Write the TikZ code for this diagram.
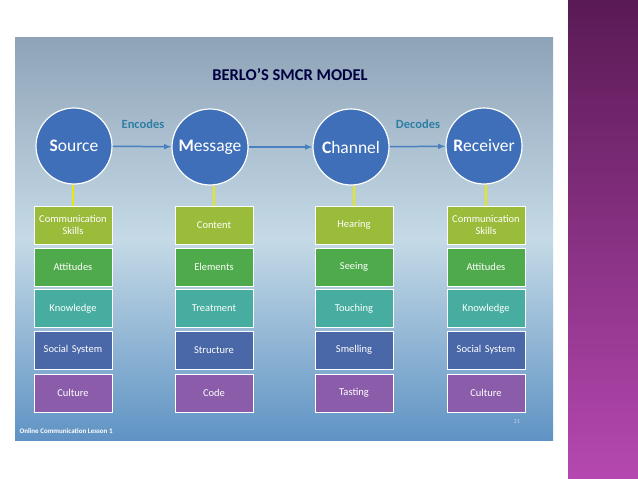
\documentclass[tikz,border=0pt]{standalone}
\usepackage{fontspec}
\setmainfont{Carlito}
\begin{document}
\begin{tikzpicture}[x=1pt,y=-1pt,
 circ/.style={circle,draw=white,line width=1.2pt,fill=cblue,minimum size=76pt,text=white,font=\fontsize{17.5}{17.5}\selectfont,inner sep=0pt},
 box/.style={draw=white,line width=0.8pt,minimum width=78pt,text width=76pt,minimum height=38pt,text=white,align=center,font=\fontsize{10.5}{12}\selectfont,inner sep=1pt},
 arr/.style={-latex,draw=ablue,line width=1.5pt},
 stem/.style={draw=yellow!90!green,line width=2.2pt},
 lab/.style={text=lblue,font=\bfseries\fontsize{12.5}{13}\selectfont}]
\definecolor{cblue}{HTML}{3F6FB8}
\definecolor{ablue}{HTML}{4A7FC0}
\definecolor{lblue}{HTML}{2E7FA5}
\definecolor{r1}{HTML}{9BBB3B}
\definecolor{r2}{HTML}{4EAA4A}
\definecolor{r3}{HTML}{46ADA0}
\definecolor{r4}{HTML}{4A68A8}
\definecolor{r5}{HTML}{8A5CAA}
\definecolor{bgtop}{HTML}{8FA3B8}
\definecolor{bgmid}{HTML}{C5DAE6}
\definecolor{bgbot}{HTML}{5F93C4}
\definecolor{ptop}{HTML}{5A1A55}
\definecolor{pbot}{HTML}{B548B0}
\useasboundingbox (0,0) rectangle (638,479);
\fill[white] (0,0) rectangle (638,479);
\shade[top color=ptop,bottom color=pbot] (568,0) rectangle (638,479);
\shade[top color=bgtop,bottom color=bgbot,middle color=bgmid] (15,37) rectangle (553,440);
\node[font=\bfseries\fontsize{16.5}{16.5}\selectfont,text=black!75!blue] (title) at (290,75) {BERLO'S SMCR MODEL};
\node[circ] (S) at (74,146) {\textbf{S}ource};
\node[circ] (M) at (210,147) {\textbf{M}essage};
\node[circ] (C) at (351,147) {\textbf{C}hannel};
\node[circ] (R) at (484,146) {\textbf{R}eceiver};
\draw[arr] (S) -- (M);
\draw[arr] (M) -- (C);
\draw[arr] (C) -- (R);
\node[lab] (enc) at (143,124) {Encodes};
\node[lab] (dec) at (418,124) {Decodes};
\foreach \n/\x/\a/\b/\c/\d/\e in {S/73/{Communication\\Skills}/Attitudes/Knowledge/Social System/Culture,
  M/214/Content/Elements/Treatment/Structure/Code,
  C/354/Hearing/Seeing/Touching/Smelling/Tasting,
  R/486/{Communication\\Skills}/Attitudes/Knowledge/Social System/Culture}{
 \node[box,fill=r1] (\n1) at (\x,225) {\a};
 \node[box,fill=r2] (\n2) at (\x,267) {\b};
 \node[box,fill=r3] (\n3) at (\x,308.5) {\c};
 \node[box,fill=r4] (\n4) at (\x,350) {\d};
 \node[box,fill=r5] (\n5) at (\x,393) {\e};
 \draw[stem] (\n1.north) -- (\n1.north |- \n.south);
}
\node[anchor=west,text=white,font=\bfseries\fontsize{7}{7}\selectfont] (foot) at (16,431) {Online Communication Lesson 1};
\node[text=white!80!blue,font=\fontsize{6}{6}\selectfont] (pg) at (517,422) {21};
\end{tikzpicture}
\end{document}
